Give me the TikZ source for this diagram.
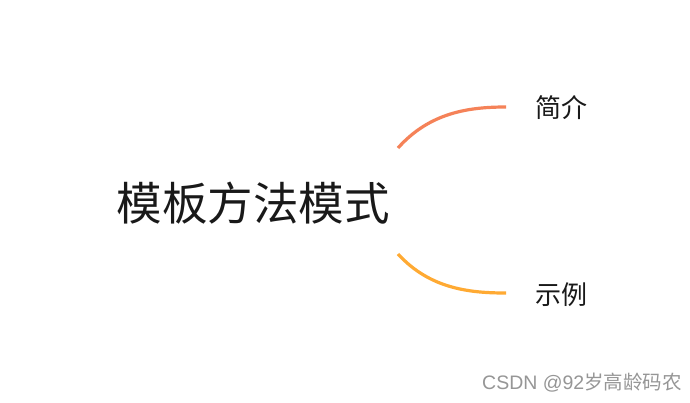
\documentclass[tikz,border=0pt]{standalone}
\usepackage{fontspec}
\setmainfont{Noto Sans CJK SC}
\newfontfamily\cjk{Noto Sans CJK SC}
\newfontfamily\wm{Liberation Sans}
\definecolor{topc}{RGB}{245,130,88}
\definecolor{botc}{RGB}{255,170,51}
\definecolor{wmc}{RGB}{150,150,150}
\begin{document}
\begin{tikzpicture}[x=1pt,y=-1pt,
  branch/.style={line width=3.2pt},
  leaf/.style={font=\cjk\fontsize{26}{30}\selectfont, text=black!90, inner sep=0pt}]
\useasboundingbox[fill=white] (0,0) rectangle (690,402);
\node[font=\cjk\fontsize{45.5}{50}\selectfont, text=black!90, inner sep=0pt] (root) at (253,203) {模板方法模式};
\coordinate (t0) at (398,148);
\coordinate (b0) at (398,254);
\coordinate (t1) at (506,107);
\coordinate (b1) at (506,293);
\node[leaf] (intro) at (561,108) {简介};
\node[leaf] (ex) at (561,295) {示例};
\draw[branch, topc] (t0) .. controls (430,112) and (470,107) .. (t1);
\draw[branch, botc] (b0) .. controls (430,289) and (470,293) .. (b1);
\node[text=wmc, inner sep=0pt, font=\fontsize{19.5}{22}\selectfont] (wmk) at (582,383) {{\wm CSDN @92}岁高龄码农};
\end{tikzpicture}
\end{document}
